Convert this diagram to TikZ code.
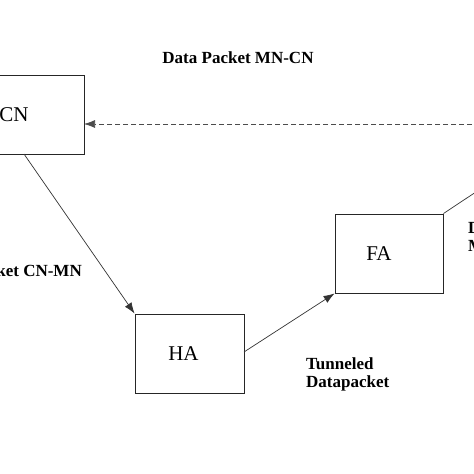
\documentclass[tikz,border=0pt]{standalone}
\usepackage{fontspec}
\setmainfont{Liberation Serif}
\usetikzlibrary{arrows.meta}
\tikzset{
  box/.style={draw=black!85, line width=0.9pt, fill=white, inner sep=0pt, font=\fontsize{21}{21}\selectfont},
  conn/.style={draw=black!80, line width=0.7pt},
  tip/.style={-{Latex[length=11pt,width=8pt]}},
  lbl/.style={font=\fontsize{17}{18}\selectfont\bfseries, text=black, inner sep=0pt}
}
\begin{document}
\begin{tikzpicture}[x=1pt,y=-1pt]
\useasboundingbox (0,0) rectangle (474,474);
\clip (0,0) rectangle (474,474);
\node[box, minimum width=138pt, minimum height=79pt] (CN) at (15,114.5) {\raisebox{-2pt}{CN}\rule{2pt}{0pt}};
\node[box, minimum width=109pt, minimum height=79pt] (HA) at (189.5,353.5) {HA\rule{12pt}{0pt}};
\node[box, minimum width=108pt, minimum height=79pt] (FA) at (389,253.5) {FA\rule{20pt}{0pt}};
\coordinate (MNend) at (500,176);
\coordinate (dashstart) at (480,124);
\coordinate (CNbot) at (24,154);
\coordinate (CNright) at (84,124);
\coordinate (HAright) at (244,352);
\draw[conn, tip] (CNbot) -- (HA.north west);
\draw[conn, tip] (HAright) -- (FA.south west);
\draw[conn] (FA.north east) -- (MNend);
\draw[conn, tip, dashed, dash pattern=on 5pt off 3pt, draw=black!70] (dashstart) -- (CNright);
\node[lbl] (l1) at (238,58) {Data Packet MN-CN};
\node[lbl, anchor=east] (l2) at (82,271) {Data Packet CN-MN};
\node[lbl, anchor=north west, align=left] (l3) at (306,357) {Tunneled\\Datapacket};
\node[lbl, anchor=north west, align=left] (l4) at (468,222) {Data\\MN};
\end{tikzpicture}
\end{document}
